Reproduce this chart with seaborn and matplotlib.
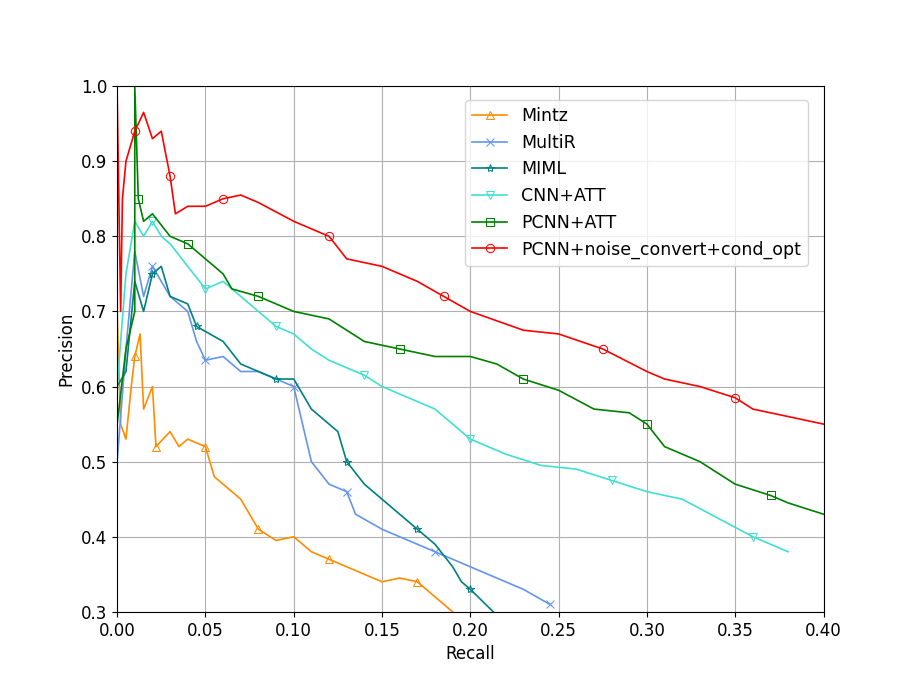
import matplotlib
matplotlib.use("Agg")
import matplotlib.pyplot as plt
import seaborn as sns
import pandas as pd

mintz_r = [0,0.002,0.005,0.008,0.01,0.013,0.015,0.02,0.022,0.03,0.035,0.04,0.05,0.055,0.065,0.07,0.08,0.09,0.1,0.11,0.12,0.14,0.15,0.16,0.17,0.18,0.19]
mintz_p = [0.7,0.55,0.53,0.6,0.64,0.67,0.57,0.6,0.52,0.54,0.52,0.53,0.52,0.48,0.46,0.45,0.41,0.395,0.40,0.38,0.37,0.35,0.34,0.345,0.34,0.32,0.30]
multir_r = [0,0.005,0.01,0.015,0.02,0.03,0.04,0.045,0.05,0.06,0.07,0.08,0.1,0.105,0.11,0.12,0.13,0.135,0.15,0.17,0.18,0.2,0.22,0.23,0.245]
multir_p = [0.5,0.65,0.78,0.72,0.76,0.72,0.70,0.66,0.635,0.64,0.62,0.62,0.60,0.55,0.50,0.47,0.46,0.43,0.41,0.39,0.38,0.36,0.34,0.33,0.31]
miml_r = [0,0.005,0.01,0.015,0.02,0.025,0.03,0.04,0.045,0.06,0.07,0.08,0.09,0.1,0.11,0.125,0.13,0.14,0.15,0.16,0.17,0.18,0.19,0.195,0.2,0.213]
miml_p = [0.6,0.62,0.74,0.70,0.75,0.76,0.72,0.71,0.68,0.66,0.63,0.62,0.61,0.61,0.57,0.54,0.50,0.47,0.45,0.43,0.41,0.39,0.36,0.34,0.33,0.30]
cnn_r = [0,0.005,0.01,0.015,0.02,0.025,0.03,0.04,0.05,0.06,0.07,0.08,0.09,0.1,0.11,0.12,0.14,0.15,0.17,0.18,0.2,0.22,0.24,0.26,0.28,0.3,0.32,0.34,0.36,0.38]
cnn_p = [0.6,0.75,0.82,0.80,0.82,0.80,0.79,0.76,0.73,0.74,0.72,0.70,0.68,0.67,0.65,0.635,0.615,0.60,0.58,0.57,0.53,0.51,0.495,0.49,0.475,0.46,0.45,0.425,0.40,0.38]
pcnn_r = [0,0.005,0.01,0.01,0.012,0.015,0.02,0.03,0.04,0.05,0.06,0.065,0.08,0.1,0.12,0.14,0.16,0.18,0.2,0.215,0.23,0.25,0.27,0.29,0.3,0.31,0.33,0.35,0.37,0.38,0.4]
pcnn_p = [0.55,0.65,0.7,1.0,0.85,0.82,0.83,0.80,0.79,0.77,0.75,0.73,0.72,0.70,0.69,0.66,0.65,0.64,0.64,0.63,0.61,0.595,0.57,0.565,0.55,0.52,0.50,0.47,0.455,0.445,0.43]
ours_r = [0,0.002,0.003,0.005,0.01,0.015,0.02,0.025,0.03,0.033,0.04,0.05,0.06,0.07,0.08,0.1,0.12,0.13,0.15,0.17,0.185,0.2,0.23,0.25,0.275,0.3,0.31,0.33,0.35,0.36,0.38,0.4]
ours_p = [0.99,0.7,0.85,0.9,0.94,0.965,0.93,0.94,0.88,0.83,0.84,0.84,0.85,0.855,0.845,0.82,0.80,0.77,0.76,0.74,0.72,0.70,0.675,0.67,0.65,0.62,0.61,0.60,0.585,0.57,0.56,0.55]

series = [
    ("Mintz", mintz_r, mintz_p, "darkorange", "^"),
    ("MultiR", multir_r, multir_p, "cornflowerblue", "x"),
    ("MIML", miml_r, miml_p, "teal", "*"),
    ("CNN+ATT", cnn_r, cnn_p, "turquoise", "v"),
    ("PCNN+ATT", pcnn_r, pcnn_p, "green", "s"),
    ("PCNN+noise_convert+cond_opt", ours_r, ours_p, "red", "o"),
]

fig, ax = plt.subplots(figsize=(9.15, 6.89), dpi=100)
fig.subplots_adjust(left=0.128, right=0.9, top=0.875, bottom=0.112)
for name, r, p, c, m in series:
    df = pd.DataFrame({"r": r, "p": p})
    sns.lineplot(data=df, x="r", y="p", ax=ax, sort=False, estimator=None,
                 color=c, lw=1.2, marker=m, markevery=slice(4, None, 4),
                 markerfacecolor="none", markeredgecolor=c, markersize=6, label=name)
ax.set_xlim(0, 0.4)
ax.set_ylim(0.3, 1.0)
ax.set_xlabel("Recall", fontsize=12)
ax.set_ylabel("Precision", fontsize=12)
ax.tick_params(labelsize=12)
ax.grid(True)
ax.legend(loc="upper right", fontsize=12.5, bbox_to_anchor=(0.99, 0.99))
fig.savefig("out.png", dpi=100)
